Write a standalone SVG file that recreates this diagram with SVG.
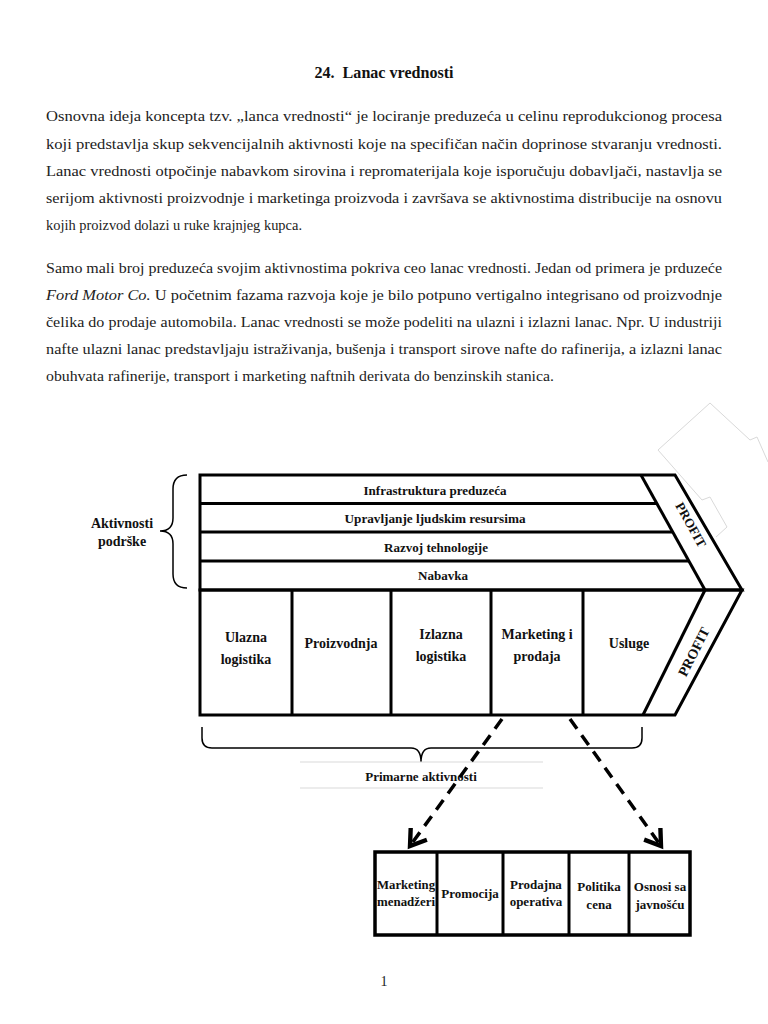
<svg xmlns="http://www.w3.org/2000/svg" width="768" height="1024" viewBox="0 0 768 1024">
<defs>
<style>
.body{font-family:"Liberation Serif","Times New Roman",serif;font-size:15px;fill:#222}
.lbl{font-family:"Liberation Serif","Times New Roman",serif;font-size:13px;font-weight:bold;fill:#111;text-anchor:middle}
.big{font-size:14px}
.ln{stroke:#000;stroke-width:3;fill:none;stroke-linejoin:miter}
.brace{stroke:#000;stroke-width:1.5;fill:none}
.dash{stroke:#000;stroke-width:3.5;fill:none;stroke-dasharray:12 8}
.faint{stroke:#d9d9d9;stroke-width:1;fill:none}
</style>
<marker id="vhead" markerUnits="userSpaceOnUse" markerWidth="30" markerHeight="30" viewBox="-16 -12 20 24" refX="0" refY="0" orient="auto">
<path d="M-12,-8 L0,0 L-12,8" stroke="#000" stroke-width="3.5" fill="none"/>
</marker>
</defs>
<rect width="768" height="1024" fill="#fff"/>

<text x="384" y="78" font-family="Liberation Serif, Times New Roman, serif" font-size="16" font-weight="bold" text-anchor="middle" fill="#111" textLength="139" lengthAdjust="spacingAndGlyphs" xml:space="preserve">24.  Lanac vrednosti</text>

<g class="body">
<text x="46" y="121" textLength="676" lengthAdjust="spacingAndGlyphs">Osnovna ideja koncepta tzv. „lanca vrednosti“ je lociranje preduzeća u celinu reprodukcionog procesa</text>
<text x="46" y="149" textLength="676" lengthAdjust="spacingAndGlyphs">koji predstavlja skup sekvencijalnih aktivnosti koje na specifičan način doprinose stvaranju vrednosti.</text>
<text x="46" y="176" textLength="676" lengthAdjust="spacingAndGlyphs">Lanac vrednosti otpočinje nabavkom sirovina i repromaterijala koje isporučuju dobavljači, nastavlja se</text>
<text x="46" y="203" textLength="676" lengthAdjust="spacingAndGlyphs">serijom aktivnosti proizvodnje i marketinga proizvoda i završava se aktivnostima distribucije na osnovu</text>
<text x="46" y="230" textLength="256" lengthAdjust="spacingAndGlyphs">kojih proizvod dolazi u ruke krajnjeg kupca.</text>

<text x="46" y="273" textLength="676" lengthAdjust="spacingAndGlyphs">Samo mali broj preduzeća svojim aktivnostima pokriva ceo lanac vrednosti. Jedan od primera je prduzeće</text>
<text x="46" y="300" textLength="676" lengthAdjust="spacingAndGlyphs"><tspan font-style="italic">Ford Motor Co.</tspan> U početnim fazama razvoja koje je bilo potpuno vertigalno integrisano od proizvodnje</text>
<text x="46" y="327" textLength="676" lengthAdjust="spacingAndGlyphs">čelika do prodaje automobila. Lanac vrednosti se može podeliti na ulazni i izlazni lanac. Npr. U industriji</text>
<text x="46" y="354" textLength="676" lengthAdjust="spacingAndGlyphs">nafte ulazni lanac predstavljaju istraživanja, bušenja i transport sirove nafte do rafinerija, a izlazni lanac</text>
<text x="46" y="381" textLength="508" lengthAdjust="spacingAndGlyphs">obuhvata rafinerije, transport i marketing naftnih derivata do benzinskih stanica.</text>
</g>

<!-- faint background artefact -->
<path class="faint" d="M658,450 L710,403 L750,440 L757,437 L768,462 M658,450 L702,500 L710,497 L727,527 L716,537"/>

<!-- support activities -->
<g id="support">
<path class="ln" d="M200,475 L675,475 L742,590 L200,590 Z"/>
<line class="ln" x1="641" y1="475" x2="705" y2="590"/>
<line class="ln" x1="200" y1="503.5" x2="656.6" y2="503.5"/>
<line class="ln" x1="200" y1="532" x2="672.5" y2="532"/>
<line class="ln" x1="200" y1="561" x2="688.7" y2="561"/>
</g>
<g id="infrastruktura"><text class="lbl" x="435" y="495" textLength="143" lengthAdjust="spacingAndGlyphs">Infrastruktura preduzeća</text></g>
<g id="upravljanje"><text class="lbl" x="435" y="523" textLength="181" lengthAdjust="spacingAndGlyphs">Upravljanje ljudskim resursima</text></g>
<g id="razvoj"><text class="lbl" x="436" y="552" textLength="104" lengthAdjust="spacingAndGlyphs">Razvoj tehnologije</text></g>
<g id="nabavka"><text class="lbl" x="443" y="580" textLength="50" lengthAdjust="spacingAndGlyphs">Nabavka</text></g>
<g id="profit-top"><text class="lbl" x="687" y="527" transform="rotate(61 687 527)">PROFIT</text></g>

<g id="aktivnosti-podrske">
<path class="brace" d="M187,475 Q173,475 173,489 L173,518 Q173,531 160,531 Q173,531 173,544 L173,574 Q173,588 187,588"/>
<text class="lbl big" x="122" y="528">Aktivnosti</text>
<text class="lbl big" x="122" y="546">podrške</text>
</g>

<!-- primary activities -->
<g id="primary">
<path class="ln" d="M200,590 L742,590 L675,715 L200,715 Z"/>
<line class="ln" x1="705" y1="590" x2="643" y2="715"/>
<line class="ln" x1="292" y1="590" x2="292" y2="715"/>
<line class="ln" x1="391" y1="590" x2="391" y2="715"/>
<line class="ln" x1="491" y1="590" x2="491" y2="715"/>
<line class="ln" x1="583" y1="590" x2="583" y2="715"/>
</g>
<g id="ulazna"><text class="lbl big" x="246" y="642">Ulazna</text><text class="lbl big" x="246" y="664">logistika</text></g>
<g id="proizvodnja"><text class="lbl big" x="341" y="648">Proizvodnja</text></g>
<g id="izlazna"><text class="lbl big" x="441" y="639">Izlazna</text><text class="lbl big" x="441" y="661">logistika</text></g>
<g id="marketing"><text class="lbl big" x="537" y="639">Marketing i</text><text class="lbl big" x="537" y="661">prodaja</text></g>
<g id="usluge"><text class="lbl big" x="629" y="648">Usluge</text></g>
<g id="profit-bottom"><text class="lbl big" x="698" y="654" transform="rotate(-63 698 654)">PROFIT</text></g>

<g id="primarne-aktivnosti">
<path class="brace" d="M202,727 L202,738 Q202,748 212,748 L411,748 Q421,748 421,762 Q421,748 431,748 L632,748 Q642,748 642,738 L642,727"/>
<line class="faint" x1="300" y1="762" x2="543" y2="762"/>
<line class="faint" x1="300" y1="788" x2="543" y2="788"/>
<text class="lbl" x="421" y="781">Primarne aktivnosti</text>
</g>

<g id="connectors">
<line class="dash" x1="502" y1="719" x2="410" y2="846" marker-end="url(#vhead)"/>
<line class="dash" x1="570" y1="719" x2="661" y2="846" marker-end="url(#vhead)"/>
</g>

<g id="marketing-detail">
<rect x="375" y="852" width="315" height="83" fill="none" stroke="#000" stroke-width="3.5"/>
<line class="ln" x1="437" y1="852" x2="437" y2="935"/>
<line class="ln" x1="503" y1="852" x2="503" y2="935"/>
<line class="ln" x1="569" y1="852" x2="569" y2="935"/>
<line class="ln" x1="629" y1="852" x2="629" y2="935"/>
</g>
<g id="menadzeri"><text class="lbl" x="406" y="889" textLength="58" lengthAdjust="spacingAndGlyphs">Marketing</text><text class="lbl" x="406" y="906" textLength="58" lengthAdjust="spacingAndGlyphs">menadžeri</text></g>
<g id="promocija"><text class="lbl" x="470" y="898">Promocija</text></g>
<g id="prodajna"><text class="lbl" x="536" y="889">Prodajna</text><text class="lbl" x="536" y="906">operativa</text></g>
<g id="politika"><text class="lbl" x="599" y="891">Politika</text><text class="lbl" x="599" y="909">cena</text></g>
<g id="osnosi"><text class="lbl" x="660" y="891">Osnosi sa</text><text class="lbl" x="660" y="909">javnošću</text></g>

<text x="384" y="986" font-family="Liberation Serif, Times New Roman, serif" font-size="14" text-anchor="middle" fill="#222">1</text>
</svg>
